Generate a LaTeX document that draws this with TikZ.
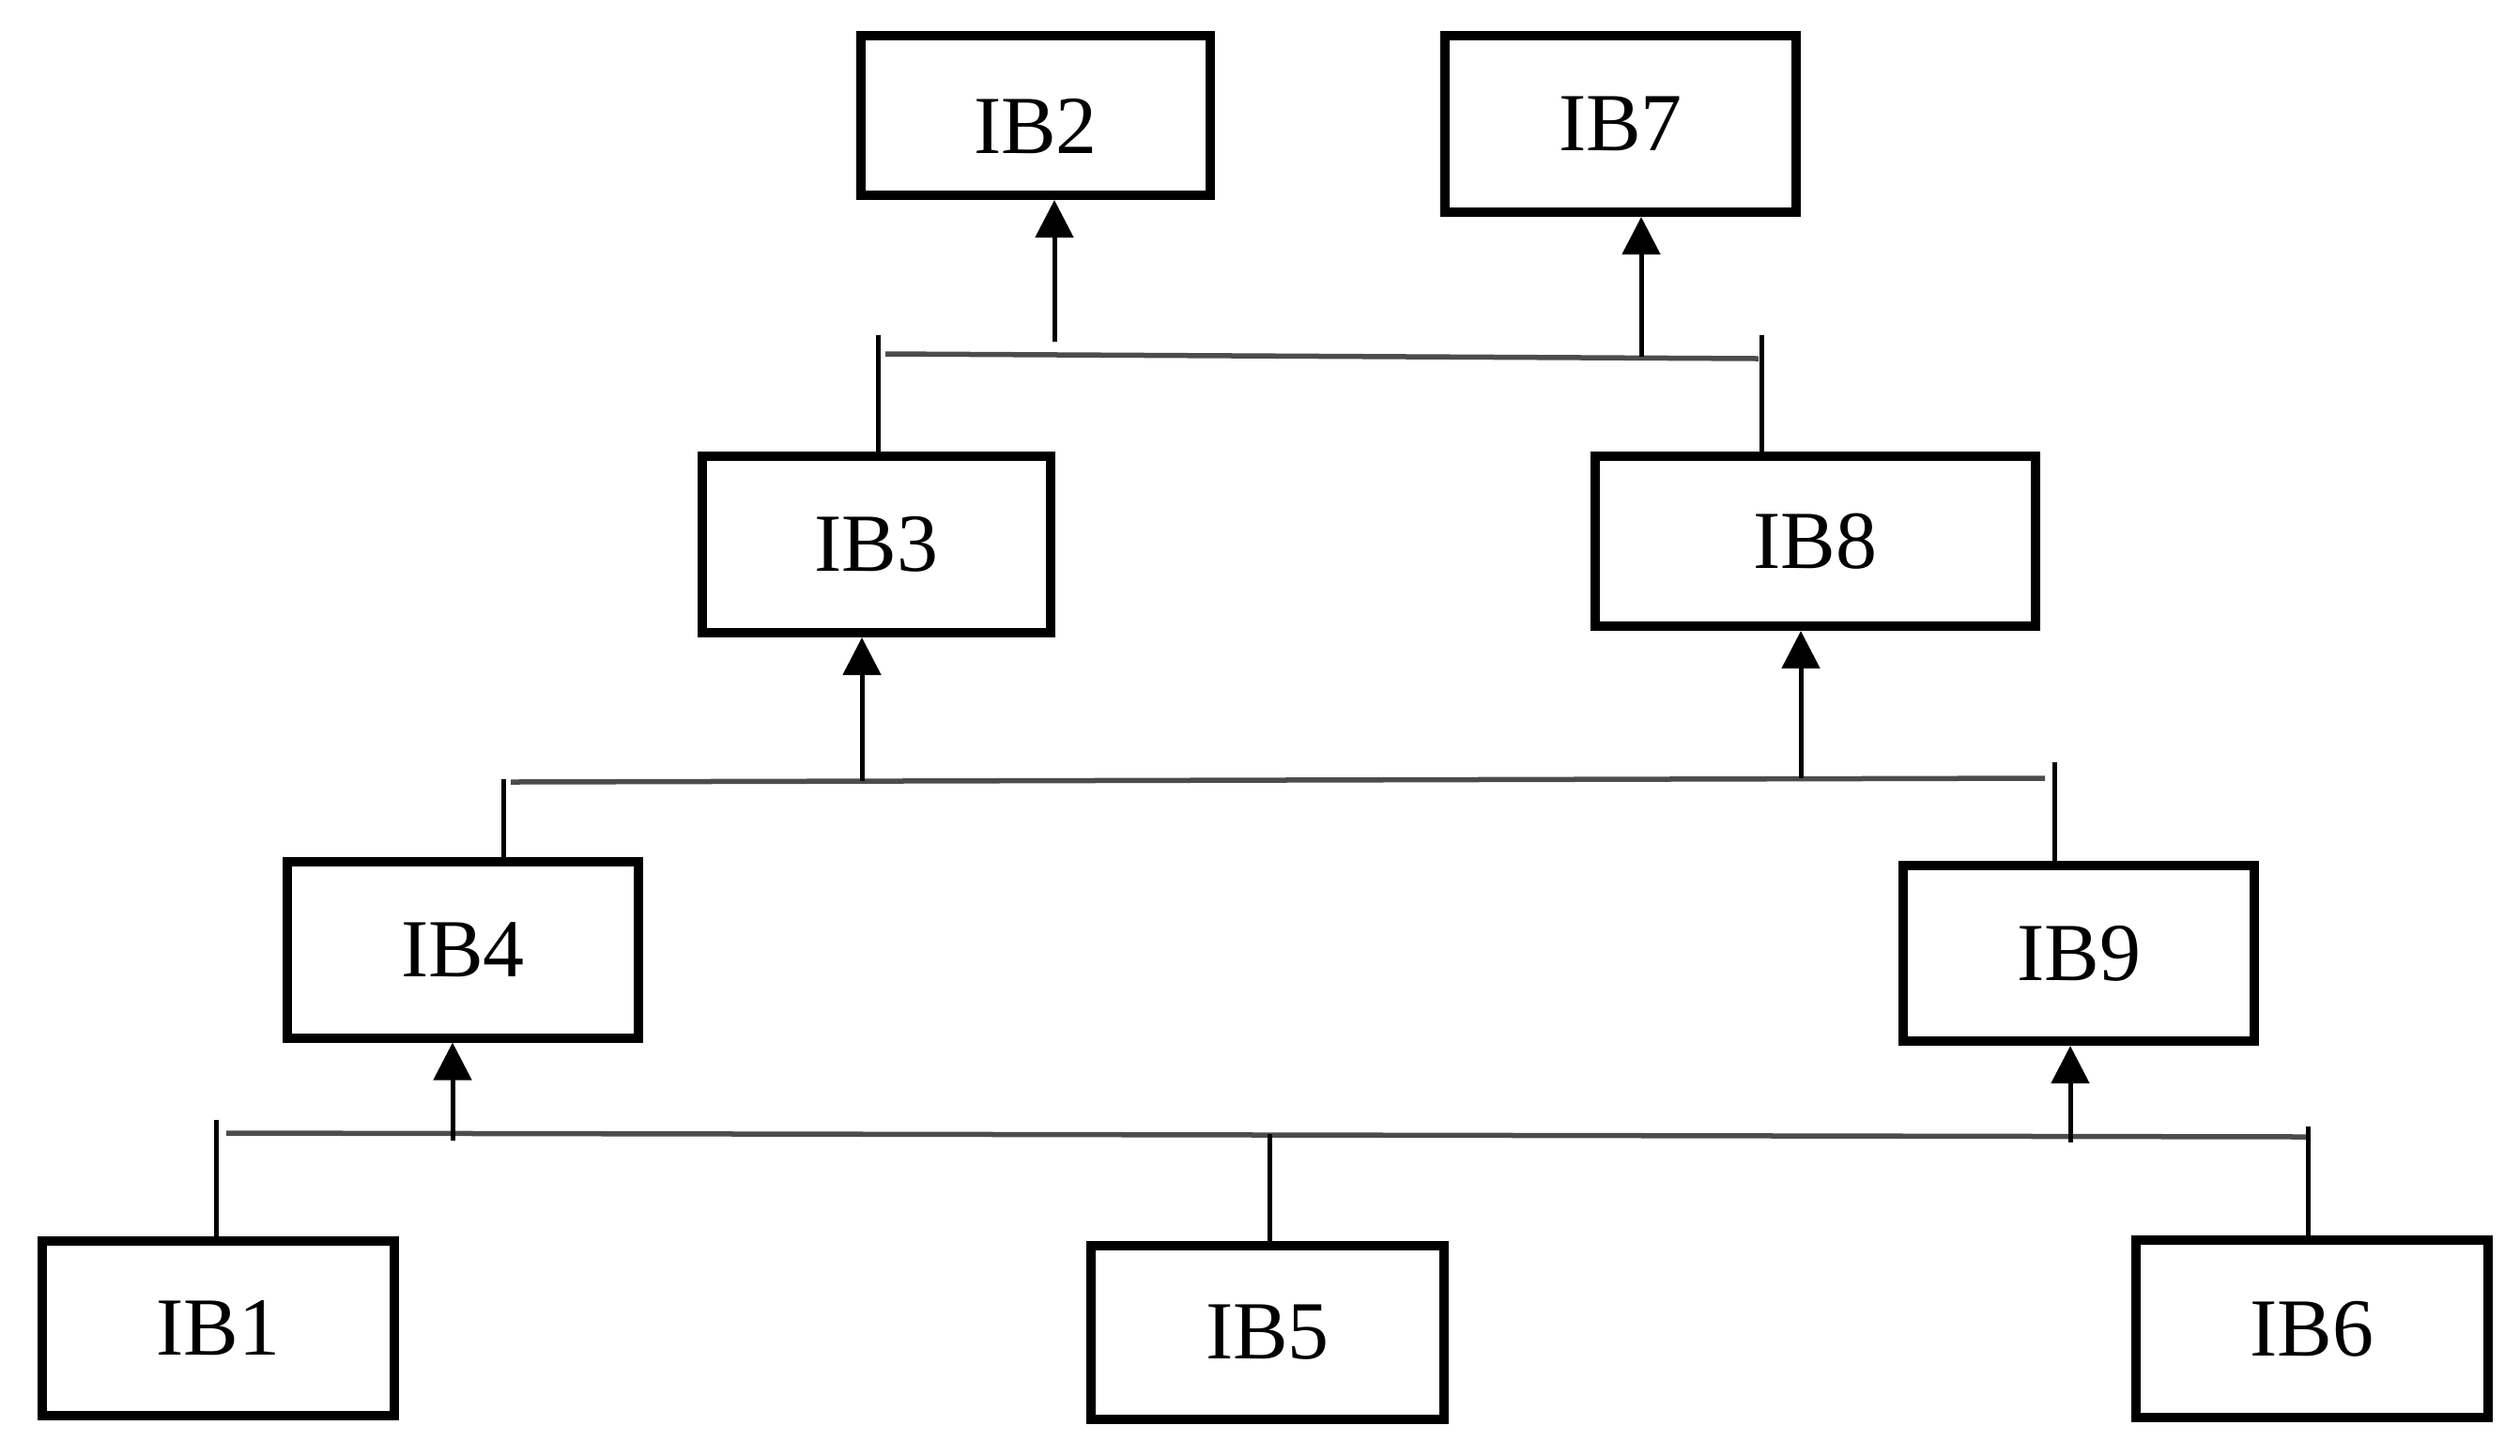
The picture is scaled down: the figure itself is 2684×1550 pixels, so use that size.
\documentclass[tikz,border=0pt]{standalone}
\usepackage{fontspec}
\setmainfont{Liberation Serif}
\usetikzlibrary{arrows.meta}
\begin{document}
\begin{tikzpicture}[x=0.01cm,y=-0.01cm,
  ibox/.style={draw=black,line width=0.1cm,fill=white,inner sep=0pt,
    font=\fontsize{25}{30}\selectfont},
  bus/.style={draw=black!70,line width=0.055cm},
  wire/.style={draw=black,line width=0.05cm},
  up/.style={wire,-{Triangle[width=0.4cm,length=0.4cm]}}]
\useasboundingbox[fill=white] (0,0) rectangle (2684,1550);
% boxes: center, size = outer size - line width
\node[ibox,minimum width=3.72cm,minimum height=1.70cm] (IB2) at (1103,123) {\raisebox{-0.11cm}[\height][0pt]{IB2}};
\node[ibox,minimum width=3.74cm,minimum height=1.88cm] (IB7) at (1726,132) {IB7};
\node[ibox,minimum width=3.71cm,minimum height=1.88cm] (IB3) at (933.5,580) {IB3};
\node[ibox,minimum width=4.69cm,minimum height=1.81cm] (IB8) at (1933.5,576.5) {IB8};
\node[ibox,minimum width=3.74cm,minimum height=1.87cm] (IB4) at (493,1012) {IB4};
\node[ibox,minimum width=3.74cm,minimum height=1.87cm] (IB9) at (2214,1015.5) {IB9};
\node[ibox,minimum width=3.75cm,minimum height=1.86cm] (IB1) at (232.5,1415) {IB1};
\node[ibox,minimum width=3.76cm,minimum height=1.85cm] (IB5) at (1350,1419.5) {IB5};
\node[ibox,minimum width=3.75cm,minimum height=1.89cm] (IB6) at (2462.5,1415.5) {IB6};
% bus end points
\coordinate (t1) at (935,357);
\coordinate (t2) at (1876,357);
\coordinate (m1) at (536,830);
\coordinate (m2) at (2188,812);
\coordinate (b1) at (230,1193);
\coordinate (b5) at (1352,1208);
\coordinate (b6) at (2458,1200);
% top level
\draw[bus] (943,377) -- (1873,382);
\draw[wire] (t1) -- (t1 |- IB3.north);
\draw[wire] (t2) -- (t2 |- IB8.north);
\coordinate (a2) at (1123,364);
\coordinate (a7) at (1748,380);
\draw[up] (a2) -- (a2 |- IB2.south);
\draw[up] (a7) -- (a7 |- IB7.south);
% middle level
\draw[bus] (544,833) -- (2178,829);
\draw[wire] (m1) -- (m1 |- IB4.north);
\draw[wire] (m2) -- (m2 |- IB9.north);
\coordinate (a3) at (918,832);
\coordinate (a8) at (1918,829);
\draw[up] (a3) -- (a3 |- IB3.south);
\draw[up] (a8) -- (a8 |- IB8.south);
% bottom level
\draw[bus] (241,1207) -- (2456,1211);
\draw[wire] (b1) -- (b1 |- IB1.north);
\draw[wire] (b5) -- (b5 |- IB5.north);
\draw[wire] (b6) -- (b6 |- IB6.north);
\coordinate (a4) at (482,1215);
\coordinate (a9) at (2205,1217);
\draw[up] (a4) -- (a4 |- IB4.south);
\draw[up] (a9) -- (a9 |- IB9.south);
\end{tikzpicture}
\end{document}
